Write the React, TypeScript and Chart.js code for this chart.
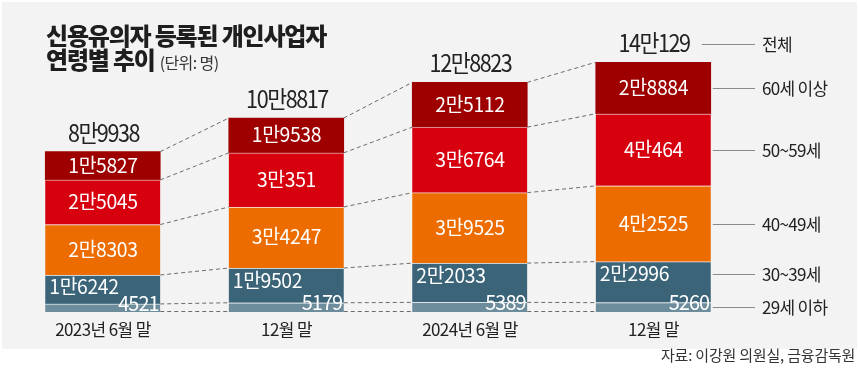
import React, { useEffect, useRef } from "react";
import { Chart, registerables } from "chart.js";

Chart.register(...registerables);

// ---- data ----
const periods = ["2023년 6월 말", "12월 말", "2024년 6월 말", "12월 말"];
const ageGroups = ["29세 이하", "30~39세", "40~49세", "50~59세", "60세 이상"];
const under29 = [4521, 5179, 5389, 5260];
const age30s = [16242, 19502, 22033, 22996];
const age40s = [28303, 34247, 39525, 42525];
const age50s = [25045, 30351, 36764, 40464];
const over60 = [15827, 19538, 25112, 28884];
const totalLabel = "전체";
const title1 = "신용유의자 등록된 개인사업자";
const title2 = "연령별 추이";
const unitText = "(단위: 명)";
const sourceText = "자료: 이강원 의원실, 금융감독원";
const seriesColors = ["#6e8d9c", "#3b6479", "#ec6c00", "#d7000f", "#9e0000"];

const FONT = "'Noto Sans CJK KR', 'Noto Sans', sans-serif";

function fmt(v: number): string {
  const m = Math.floor(v / 10000);
  const r = v % 10000;
  return m > 0 ? `${m}만${r}` : `${r}`;
}

function txt(
  ctx: CanvasRenderingContext2D,
  s: string,
  x: number,
  y: number,
  font: string,
  color: string,
  align: CanvasTextAlign,
  spacing: number,
  baseline: CanvasTextBaseline = "alphabetic",
  sx: number = 1
) {
  ctx.save();
  ctx.font = font;
  ctx.fillStyle = color;
  ctx.textAlign = align;
  ctx.textBaseline = baseline;
  (ctx as any).letterSpacing = `${spacing}px`;
  let xx = 0;
  if (align === "center") xx = -spacing / 2;
  if (align === "right") xx = -spacing;
  ctx.translate(x, y);
  ctx.scale(sx, 1);
  ctx.fillText(s, xx, 0);
  const w = ctx.measureText(s).width * sx;
  ctx.restore();
  return w;
}

const decoPlugin = {
  id: "deco",
  beforeDraw(chart: any) {
    const ctx = chart.ctx as CanvasRenderingContext2D;
    ctx.save();
    ctx.fillStyle = "#ffffff";
    ctx.fillRect(0, 0, chart.width, chart.height);
    ctx.fillStyle = "#f3f3f3";
    ctx.fillRect(2, 2, 855, 347);
    ctx.restore();
  },
  afterDatasetsDraw(chart: any) {
    const ctx = chart.ctx as CanvasRenderingContext2D;
    const nD = chart.data.datasets.length;
    const bars: any[][] = [];
    for (let d = 0; d < nD; d++) {
      const meta = chart.getDatasetMeta(d);
      bars.push(meta.data.map((el: any) => el.getProps(["x", "y", "base", "width"], true)));
    }
    const n = periods.length;

    // dashed connectors
    ctx.save();
    ctx.strokeStyle = "#6c6c6c";
    ctx.lineWidth = 1;
    ctx.setLineDash([4, 3]);
    for (let i = 0; i < n - 1; i++) {
      const a = bars[0][i];
      const b = bars[0][i + 1];
      const ys0 = [a.base - 0.5, ...bars.map((bb) => bb[i].y)];
      const ys1 = [b.base - 0.5, ...bars.map((bb) => bb[i + 1].y)];
      const x0 = a.x + a.width / 2;
      const x1 = b.x - b.width / 2;
      for (let k = 0; k < ys0.length; k++) {
        ctx.beginPath();
        ctx.moveTo(x0, ys0[k]);
        ctx.lineTo(x1, ys1[k]);
        ctx.stroke();
      }
    }
    ctx.restore();

    const datasets = chart.data.datasets;
    const totalWidths: number[] = [];
    for (let i = 0; i < n; i++) {
      const bx = bars[0][i].x;
      const bw = bars[0][i].width;
      const left = bx - bw / 2;
      const right = bx + bw / 2;
      // segments 2..4 centred
      for (let d = 2; d < nD; d++) {
        const el = bars[d][i];
        const cy = (el.y + el.base) / 2;
        txt(ctx, fmt(datasets[d].data[i]), bx, cy + 7, `20px ${FONT}`, "#ffffff", "center", -0.4, "alphabetic", 0.97);
      }
      // 30-39 left aligned
      const e1 = bars[1][i];
      txt(ctx, fmt(datasets[1].data[i]), left + 4, e1.y + 19.5, `20px ${FONT}`, "#ffffff", "left", -0.4, "alphabetic", 0.97);
      // 29- right aligned straddling boundary
      const e0 = bars[0][i];
      txt(ctx, fmt(datasets[0].data[i]), right - 2.5, e0.y + 7.5, `21px ${FONT}`, "#ffffff", "right", -1, "alphabetic", 0.95);
      // total
      let total = 0;
      for (let d = 0; d < nD; d++) total += datasets[d].data[i];
      const top = bars[nD - 1][i].y;
      totalWidths.push(txt(ctx, fmt(total), bx, top - 10, `24px ${FONT}`, "#222222", "center", -1.6, "alphabetic", 0.9));
      // period label
      txt(ctx, periods[i], bx, 336, `17px ${FONT}`, "#222222", "center", -0.6);
    }

    // right legend based on last bar
    const li = n - 1;
    const lb = bars[0][li];
    const lRight = lb.x + lb.width / 2;
    const lineEnd = 755;
    const textX = 762;
    ctx.save();
    ctx.strokeStyle = "#8a8a8a";
    ctx.lineWidth = 1;
    const legendRows: { y: number; x0: number; label: string }[] = [];
    const topY = bars[nD - 1][li].y;
    legendRows.push({ y: topY - 18.5, x0: lb.x + totalWidths[li] / 2 + 13, label: totalLabel });
    for (let d = nD - 1; d >= 2; d--) {
      const el = bars[d][li];
      legendRows.push({ y: (el.y + el.base) / 2, x0: lRight + 2, label: ageGroups[d] });
    }
    legendRows.push({ y: bars[1][li].y + 12, x0: lRight + 2, label: ageGroups[1] });
    legendRows.push({ y: (bars[0][li].y + bars[0][li].base) / 2 - 0.5, x0: lRight + 2, label: ageGroups[0] });
    for (const r of legendRows) {
      const yy = Math.round(r.y) + 0.5;
      ctx.beginPath();
      ctx.moveTo(r.x0, yy);
      ctx.lineTo(lineEnd, yy);
      ctx.stroke();
    }
    ctx.restore();
    for (const r of legendRows) {
      txt(ctx, r.label, textX, r.y + 1, `17px ${FONT}`, "#222222", "left", -0.7, "middle");
    }

    // titles and source
    txt(ctx, title1, 46, 45, `900 24px ${FONT}`, "#1e1e1e", "left", -1.2);
    const w2 = txt(ctx, title2, 46, 69, `900 24px ${FONT}`, "#1e1e1e", "left", -1.2);
    txt(ctx, unitText, 46 + w2 + 5, 69, `16px ${FONT}`, "#333333", "left", -0.6);
    txt(ctx, sourceText, 855, 361, `15px ${FONT}`, "#333333", "right", -0.2);
  },
};

export default function App() {
  const canvasRef = useRef<HTMLCanvasElement | null>(null);

  useEffect(() => {
    const canvas = canvasRef.current;
    if (!canvas) return;
    const series = [under29, age30s, age40s, age50s, over60];
    const chart = new Chart(canvas, {
      type: "bar",
      data: {
        labels: periods,
        datasets: series.map((data, d) => ({
          label: ageGroups[d],
          data,
          backgroundColor: seriesColors[d],
          borderColor: d === 0 ? "rgba(255,255,255,0.6)" : "rgba(255,255,255,0.45)",
          borderWidth: d === series.length - 1 ? 0 : { top: 1, left: 0, right: 0, bottom: 0 },
          borderSkipped: false,
          barThickness: 115,
        })),
      },
      options: {
        responsive: false,
        animation: false,
        devicePixelRatio: 1,
        layout: { padding: { top: 9, bottom: 60, left: 11, right: 115 } },
        plugins: {
          legend: { display: false },
          tooltip: { enabled: false },
          title: { display: false },
        },
        scales: {
          x: { stacked: true, display: false, grid: { display: false } },
          y: { stacked: true, display: false, min: 0, max: 170000, grid: { display: false } },
        },
      },
      plugins: [decoPlugin],
    });
    return () => chart.destroy();
  }, []);

  return (
    <div style={{ position: "absolute", left: 0, top: 0, width: 860, height: 372 }}>
      <canvas ref={canvasRef} width={860} height={372} style={{ display: "block" }} />
    </div>
  );
}
